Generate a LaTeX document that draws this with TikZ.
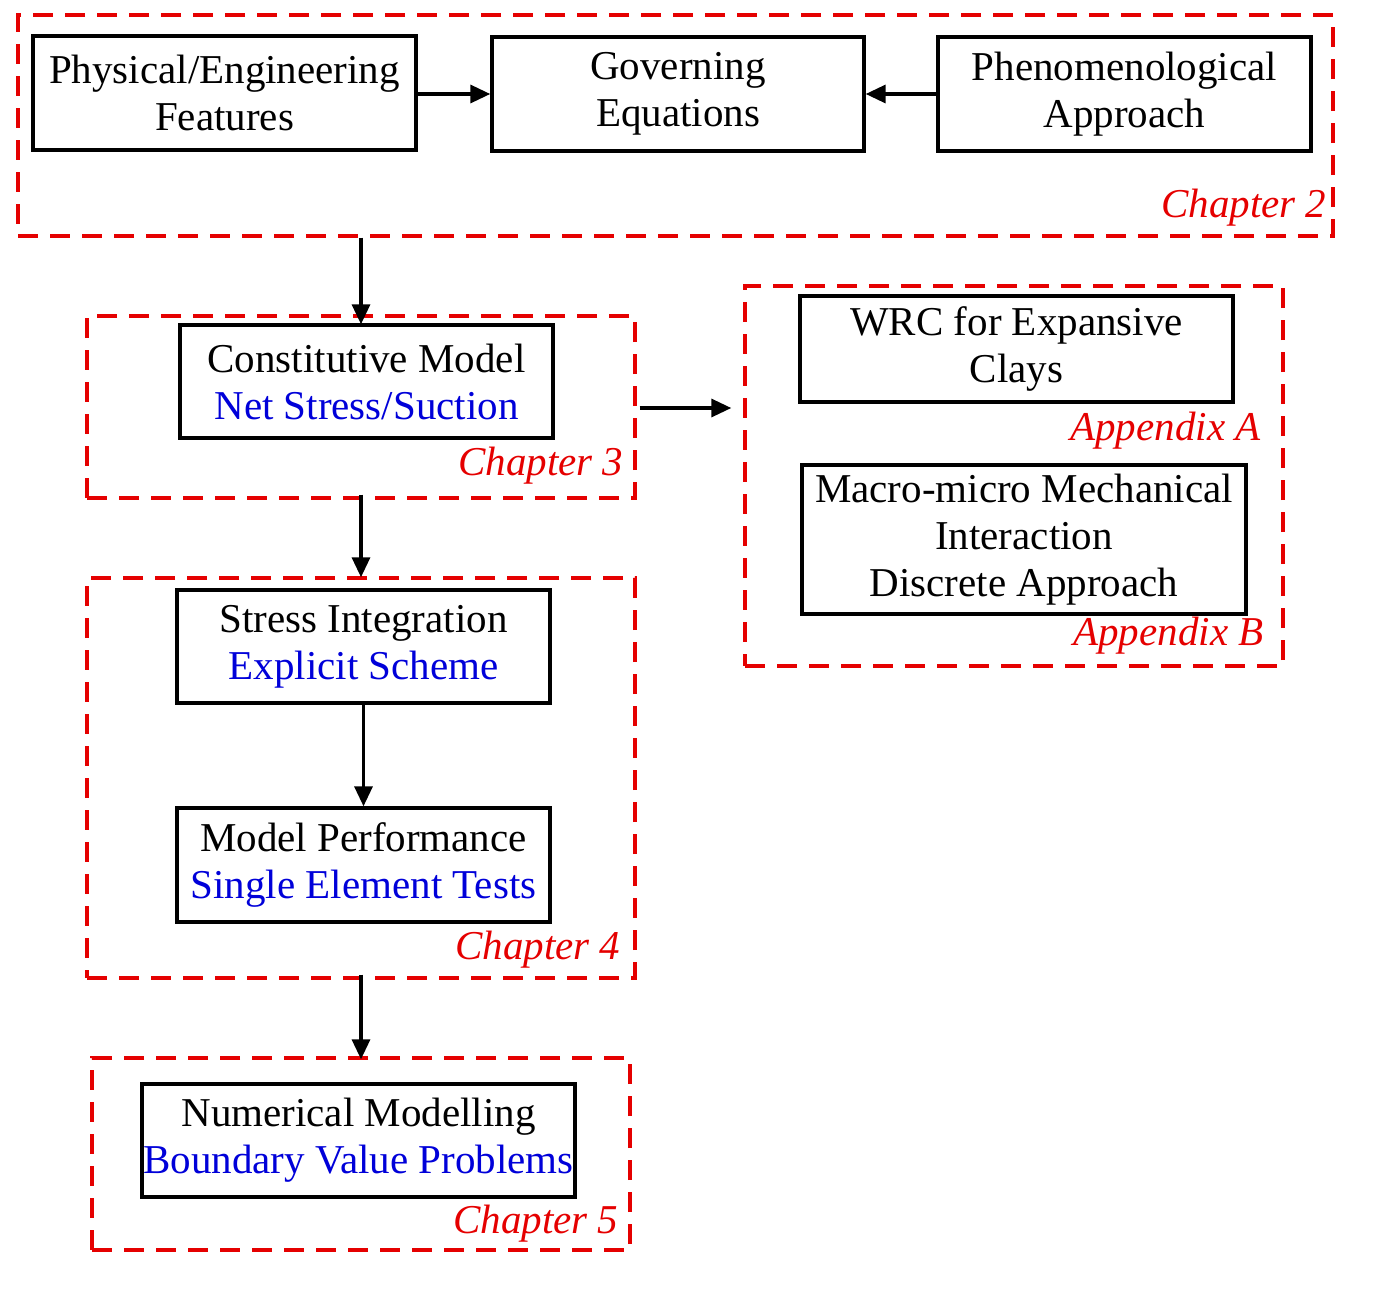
\documentclass[tikz,border=0pt]{standalone}
\usepackage{fontspec}
\setmainfont{Liberation Serif}
\usetikzlibrary{arrows.meta}
\begin{document}
\begin{tikzpicture}[x=1pt,y=-1pt,
  box/.style={draw,line width=3.4pt,inner sep=0pt,align=center,font=\fontsize{41}{47}\selectfont},
  frame/.style={draw=red!90!black,line width=3.4pt,dash pattern=on 20pt off 12pt,inner sep=0pt},
  lab/.style={text=red!90!black,font=\fontsize{41}{47}\selectfont\itshape,anchor=east},
  arr/.style={-{Triangle[length=20pt,width=18pt]},line width=3.4pt}]
\useasboundingbox (0,0) rectangle (1380,1298);
\newcommand\bx[6]{\node[#6,minimum width=#4-#2,minimum height=#5-#3] (#1) at ({(#2+#4)/2},{(#3+#5)/2}) {};}
% frames
\bx{f2}{18}{15}{1333}{236}{frame}
\bx{f3}{87}{316}{635}{498}{frame}
\bx{fa}{745}{286}{1283}{666}{frame}
\bx{f4}{87}{578}{635}{978}{frame}
\bx{f5}{92}{1058}{630}{1250}{frame}
% boxes
\node[box,minimum width=383pt,minimum height=114pt] (phys) at (224.5,93) {Physical/Engineering\\Features};
\node[box,minimum width=372pt,minimum height=114pt] (gov) at (678,94) {Governing\\Equations};
\node[box,minimum width=373pt,minimum height=114pt] (phen) at (1124.5,94) {Phenomenological\\Approach};
\node[box,minimum width=373pt,minimum height=113pt] (cons) at (366.5,381.5) {Constitutive Model\\\textcolor{blue!85!black}{Net Stress/Suction}};
\node[box,minimum width=433pt,minimum height=106pt] (wrc) at (1016.5,349) {WRC for Expansive\\Clays};
\node[box,minimum width=444pt,minimum height=149pt] (macro) at (1024,539.5) {Macro-micro Mechanical\\Interaction\\Discrete Approach};
\node[box,minimum width=373pt,minimum height=113pt] (stress) at (363.5,646.5) {Stress Integration\\\textcolor{blue!85!black}{Explicit Scheme}};
\node[box,minimum width=373pt,minimum height=114pt] (perf) at (363.5,865) {Model Performance\\\textcolor{blue!85!black}{Single Element Tests}};
\node[box,minimum width=433pt,minimum height=113pt] (num) at (358.5,1140.5) {Numerical Modelling\\\textcolor{blue!85!black}{Boundary Value Problems}};
% labels
\node[lab] (l2) at (1330,208) {Chapter 2};
\node[lab] (l3) at (627,466) {Chapter 3};
\node[lab] (la) at (1264,431) {Appendix A};
\node[lab] (lb) at (1267,636) {Appendix B};
\node[lab] (l4) at (624,950) {Chapter 4};
\node[lab] (l5) at (622,1224) {Chapter 5};
% arrows
\draw[arr] (phys.east |- 0,94) -- (gov.west);
\draw[arr] (phen.west) -- (gov.east);
\draw[arr] (f2.south -| 361,0) -- ([yshift=-10pt]f3.north -| 361,0);
\draw[arr] ([yshift=5pt]f3.south -| 361,0) -- ([yshift=-1pt]f4.north -| 361,0);
\draw[arr] (stress) -- (perf);
\draw[arr] ([yshift=5pt]f4.south -| 361,0) -- ([yshift=-3pt]f5.north -| 361,0);
\draw[arr] ([xshift=3pt]f3.east |- 0,408) -- ([xshift=-12pt]fa.west |- 0,408);
\end{tikzpicture}
\end{document}
